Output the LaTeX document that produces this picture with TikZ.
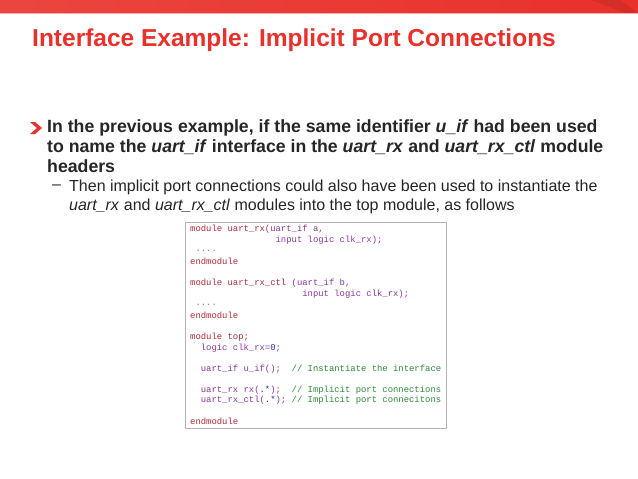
\documentclass[tikz,border=0pt]{standalone}
\usepackage{fontspec}
\setmainfont{Liberation Sans}
\newfontfamily\codefont{Liberation Mono}
\definecolor{ttl}{HTML}{E8312A}
\definecolor{kw}{HTML}{B02A3A}
\definecolor{pu}{HTML}{8A3A9A}
\definecolor{cm}{HTML}{2E8B3A}
\definecolor{bl}{HTML}{2030B0}
\definecolor{txt}{HTML}{262626}
\begin{document}
\begin{tikzpicture}[x=1pt,y=-1pt,
  code/.style={anchor=west,inner sep=0pt,font=\codefont\fontsize{8.9}{9}\selectfont},
  body/.style={anchor=west,inner sep=0pt,text=txt}]
\useasboundingbox (0,0) rectangle (638,479);
\fill[white] (0,0) rectangle (638,479);
\shade[left color=ttl!90!white,right color=ttl] (0,0) rectangle (638,13);
\fill[ttl!80!black,opacity=0.4] (590,0) .. controls (605,4) and (615,10) .. (625,13) -- (638,13) -- (620,0) -- cycle;
\draw[ttl!40,line width=1pt] (0,13.5) -- (638,13.5);
\node[anchor=west,inner sep=0pt,text=ttl,font=\bfseries\fontsize{24.5}{28}\selectfont] (title) at (32,40) {Interface Example: Implicit Port Connections};
\fill[ttl] (30,122) -- (35,122) -- (42,128) -- (35,134) -- (30,134) -- (37,128) -- cycle;
\node[body,font=\bfseries\fontsize{17.7}{20}\selectfont] (b1) at (47,128) {In the previous example, if the same identifier \textit{u\_if} had been used};
\node[body,font=\bfseries\fontsize{17.7}{20}\selectfont] (b2) at (47,147) {to name the \textit{uart\_if} interface in the \textit{uart\_rx} and \textit{uart\_rx\_ctl} module};
\node[body,font=\bfseries\fontsize{17.7}{20}\selectfont] (b3) at (47,166) {headers};
\node[body,font=\fontsize{16}{19}\selectfont] (s0) at (52,187) {--};
\node[body,font=\fontsize{16}{19}\selectfont] (s1) at (69,187) {Then implicit port connections could also have been used to instantiate the};
\node[body,font=\fontsize{16}{19}\selectfont] (s2) at (69,206) {\textit{uart\_rx} and \textit{uart\_rx\_ctl} modules into the top module, as follows};
\node[draw=gray!60,line width=0.6pt,minimum width=261pt,minimum height=206pt,anchor=north west,inner sep=0pt] (box) at (185,222) {};
\node[code] at (190,229) {\textcolor{kw}{module uart\_rx}\textcolor{pu}{(uart\_if a,}};
\node[code] at (190,240) {\textcolor{pu}{\ \ \ \ \ \ \ \ \ \ \ \ \ \ \ \ input logic clk\_rx);}};
\node[code] at (190,251) {\textcolor{gray}{\ ....}};
\node[code] at (190,261) {\textcolor{kw}{endmodule}};
\node[code] at (190,283) {\textcolor{kw}{module uart\_rx\_ctl} \textcolor{pu}{(uart\_if b,}};
\node[code] at (190,294) {\textcolor{pu}{\ \ \ \ \ \ \ \ \ \ \ \ \ \ \ \ \ \ \ \ \ input logic clk\_rx);}};
\node[code] at (190,305) {\textcolor{gray}{\ ....}};
\node[code] at (190,315) {\textcolor{kw}{endmodule}};
\node[code] at (190,337) {\textcolor{kw}{module top;}};
\node[code] at (190,348) {\textcolor{pu}{\ \ logic clk\_rx=}\textcolor{bl}{0}\textcolor{pu}{;}};
\node[code] at (190,369) {\textcolor{pu}{\ \ uart\_if u\_if();}\ \ \textcolor{cm}{// Instantiate the interface}};
\node[code] at (190,390) {\textcolor{pu}{\ \ uart\_rx rx(}\textcolor{bl}{.*}\textcolor{pu}{);}\ \ \textcolor{cm}{// Implicit port connections}};
\node[code] at (190,400) {\textcolor{pu}{\ \ uart\_rx\_ctl(}\textcolor{bl}{.*}\textcolor{pu}{);} \textcolor{cm}{// Implicit port connecitons}};
\node[code] at (190,421) {\textcolor{kw}{endmodule}};
\end{tikzpicture}
\end{document}
